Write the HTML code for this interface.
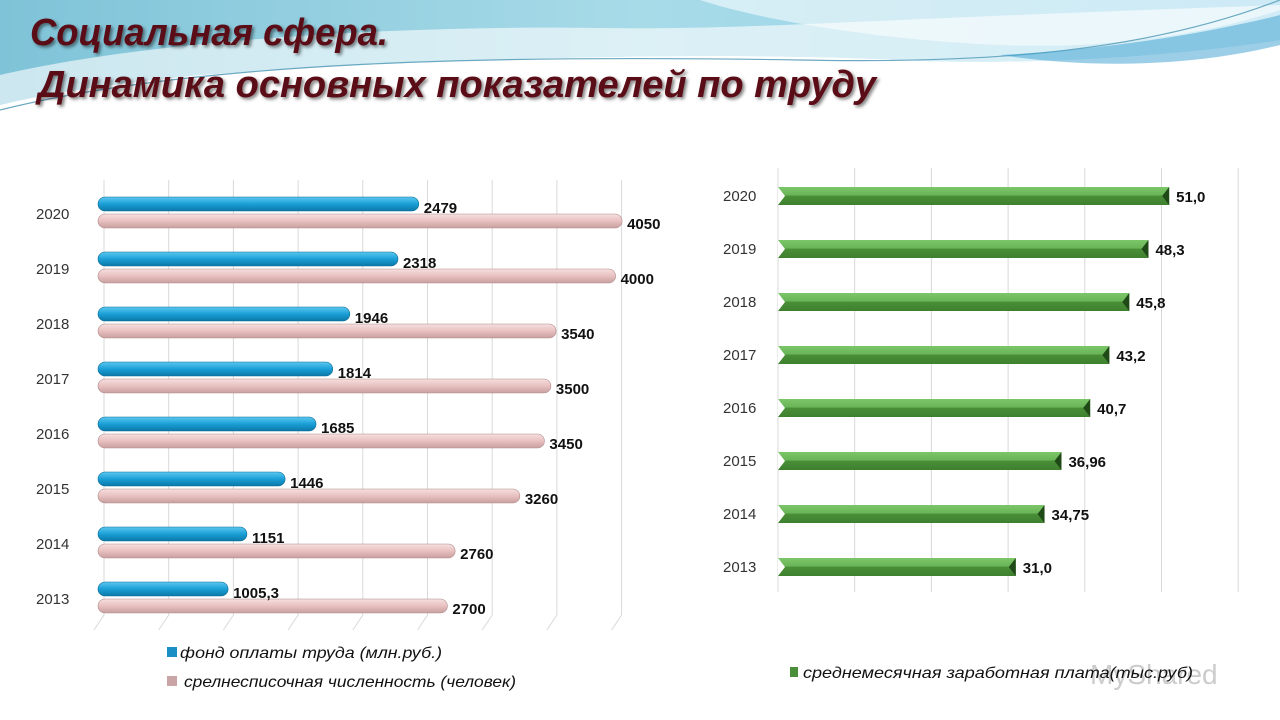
<!DOCTYPE html>
<html><head><meta charset="utf-8"><style>
body{margin:0;width:1280px;height:720px;overflow:hidden;background:#fff;font-family:"Liberation Sans","DejaVu Sans",sans-serif}
svg{display:block}
.yl{font-size:15px;fill:#333}
.vl{font-size:15px;font-weight:bold;fill:#111}
.lg{font-size:16px;font-style:italic;fill:#111}
.tt{font-size:38px;font-weight:bold;font-style:italic;fill:#5a0a14}
</style></head><body>
<svg width="1280" height="720">
<defs>
<linearGradient id="sky" x1="0" y1="0" x2="1" y2="0"><stop offset="0" stop-color="#7fc3d8"/><stop offset="0.5" stop-color="#a8dbe8"/><stop offset="1" stop-color="#8fd0ea"/></linearGradient>
<linearGradient id="blue" x1="0" y1="0" x2="0" y2="1"><stop offset="0" stop-color="#5cc8f0"/><stop offset="0.5" stop-color="#1a9fd6"/><stop offset="1" stop-color="#0b78a8"/></linearGradient>
<linearGradient id="pink" x1="0" y1="0" x2="0" y2="1"><stop offset="0" stop-color="#f6e0e0"/><stop offset="0.5" stop-color="#e8c0c0"/><stop offset="1" stop-color="#c9a0a0"/></linearGradient>
<linearGradient id="grn" x1="0" y1="0" x2="0" y2="1"><stop offset="0" stop-color="#7cc66a"/><stop offset="0.45" stop-color="#6bb558"/><stop offset="0.5" stop-color="#4a8f38"/><stop offset="1" stop-color="#3e7f2e"/></linearGradient>
<filter id="sh"><feDropShadow dx="2" dy="2" stdDeviation="1.5" flood-color="#000" flood-opacity="0.5"/></filter>
</defs>
<g>
<path d="M0 0 H1280 V40 C1150 60 1000 65 900 60 C700 50 400 60 200 75 C100 85 40 95 0 105 Z" fill="url(#sky)"/>
<path d="M0 75 C150 40 400 25 600 28 C750 30 850 20 1280 5 V40 C1150 60 1000 65 900 60 C700 50 400 60 200 75 C100 85 40 95 0 105 Z" fill="#ffffff" opacity="0.6"/>
<path d="M700 0 C760 20 880 40 1000 45 C1120 50 1220 30 1280 10 V0 Z" fill="#ffffff" opacity="0.55"/>
<path d="M0 110 C200 60 500 55 800 60 C1000 64 1150 50 1280 0" stroke="#6aa9c2" stroke-width="1.2" fill="none"/>
<path d="M1000 55 C1100 50 1200 35 1280 15 V45 C1200 65 1100 70 1000 55 Z" fill="#3a9fd0" opacity="0.5"/>
</g>
<text class="tt" x="30" y="45" textLength="358" lengthAdjust="spacingAndGlyphs" filter="url(#sh)">Социальная сфера.</text>
<text class="tt" x="38" y="97" textLength="838" lengthAdjust="spacingAndGlyphs" filter="url(#sh)">Динамика основных показателей  по труду</text>
<g id="left"></g>
<g id="right"></g>
<g>
<rect x="167" y="647" width="10" height="10" fill="#1a8fc6"/>
<text class="lg" x="180" y="658" textLength="262" lengthAdjust="spacingAndGlyphs">фонд оплаты труда (млн.руб.)</text>
<rect x="167" y="676" width="10" height="10" fill="#c9a5a5"/>
<text class="lg" x="184" y="687" textLength="332" lengthAdjust="spacingAndGlyphs">срелнесписочная численность (человек)</text>
</g>
<g>
<text x="1090" y="684" font-size="28" fill="#ccc">MyShared</text>
<rect x="790" y="667" width="8" height="10" fill="#4a8f38"/>
<text class="lg" x="803" y="678" textLength="390" lengthAdjust="spacingAndGlyphs">среднемесячная  заработная плата(тыс.руб)</text>
</g>
</svg>
<script>
const years=["2020","2019","2018","2017","2016","2015","2014","2013"];
const fund=[2479,2318,1946,1814,1685,1446,1151,1005.3];
const fundLabels=["2479","2318","1946","1814","1685","1446","1151","1005,3"];
const staff=[4050,4000,3540,3500,3450,3260,2760,2700];
const staffLabels=["4050","4000","3540","3500","3450","3260","2760","2700"];
const salary=[51.0,48.3,45.8,43.2,40.7,36.96,34.75,31.0];
const salaryLabels=["51,0","48,3","45,8","43,2","40,7","36,96","34,75","31,0"];
const NS="http://www.w3.org/2000/svg";
function mk(p,t,a){const e=document.createElementNS(NS,t);for(const k in a)e.setAttribute(k,a[k]);p.appendChild(e);return e;}
const L=document.getElementById('left');
const lx=v=>98+v*0.1294, ly=i=>213+i*55;
for(let k=0;k<=8;k++){const x=104+k*64.7;
 const g=mk(L,'path',{d:`M${x} 180 V615 L${x-10} 630`,stroke:'#d9d9d9','stroke-width':1,fill:'none'});
 }
years.forEach((y,i)=>{const c=ly(i);
 const t=mk(L,'text',{x:36,y:c+6,class:'yl'});t.textContent=y;
 
 const b=mk(L,'rect',{x:98,y:c-16,width:lx(fund[i])-98,height:14,rx:7,fill:'url(#blue)',stroke:'#0b6a96','stroke-width':0.6});
 
 const p=mk(L,'rect',{x:98,y:c+1,width:lx(staff[i])-98,height:14,rx:7,fill:'url(#pink)',stroke:'#b08a8a','stroke-width':0.6});
 
 const t1=mk(L,'text',{x:lx(fund[i])+5,y:c,class:'vl'});t1.textContent=fundLabels[i];
 
 const t2=mk(L,'text',{x:lx(staff[i])+5,y:c+16,class:'vl'});t2.textContent=staffLabels[i];
 
});
const R=document.getElementById('right');
const rx=v=>778+v*7.67, ry=i=>196+i*53;
for(let k=0;k<=6;k++){const x=778+k*76.7;
 const g=mk(R,'line',{x1:x,y1:168,x2:x,y2:592,stroke:'#d9d9d9','stroke-width':1});
 }
years.forEach((y,i)=>{const c=ry(i);
 const t=mk(R,'text',{x:723,y:c+5,class:'yl'});t.textContent=y;
 
 const xe=rx(salary[i]);
 const b=mk(R,'rect',{x:778,y:c-9,width:xe-778,height:18,fill:'url(#grn)'});
 
 const n=mk(R,'path',{d:`M778 ${c-9} L785 ${c} L778 ${c+9} Z`,fill:'#fff'});
 
 const tip=mk(R,'path',{d:`M${xe} ${c-9} L${xe-7} ${c} L${xe} ${c+9} Z`,fill:'#1f4a18'});
 
 const tv=mk(R,'text',{x:xe+7,y:c+6,class:'vl'});tv.textContent=salaryLabels[i];
 
});
</script>
</body></html>
